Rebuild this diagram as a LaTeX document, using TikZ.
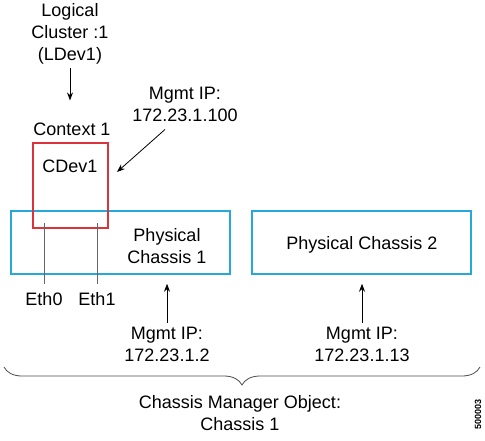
\documentclass[tikz,border=0pt]{standalone}
\usepackage{fontspec}
\setmainfont{Liberation Sans}
\usetikzlibrary{arrows.meta, decorations.pathreplacing}
\definecolor{ctxred}{RGB}{218,52,58}
\definecolor{chassisblue}{RGB}{38,168,218}
\tikzstyle{txt} = [align=center, inner sep=0pt, font=\fontsize{18}{22}\selectfont]
\tikzstyle{chassis} = [rectangle, draw=chassisblue, line width=1.5pt, minimum width=219pt, minimum height=63pt, inner sep=0pt]
\tikzstyle{context} = [rectangle, draw=ctxred, line width=1.5pt, minimum width=75pt, minimum height=85pt, inner sep=0pt]
\tikzstyle{arrow} = [line width=0.8pt, -{Stealth[length=8pt,width=6pt]}]
\tikzstyle{port} = [draw=black!60, line width=0.8pt]

\begin{document}
\begin{tikzpicture}[x=1pt, y=-1pt]
\useasboundingbox (0,0) rectangle (485,440);
%boxes
\node (chassis1) [chassis] at (120.5,242.5) {};
\node (chassis2) [chassis] at (361.5,242.5) {};
\node (cdev) [context] at (70.5,185.5) {};
%texts
\node (ldev) [txt] at (70,34) {Logical\\Cluster :1\\(LDev1)};
\node (ctx) [txt] at (72,129) {Context 1};
\node (cdevtxt) [txt] at (70,166) {CDev1};
\node (mgmtctx) [txt] at (185,104) {Mgmt IP:\\172.23.1.100};
\node (phys1) [txt] at (167,246) {Physical\\Chassis 1};
\node (phys2) [txt] at (362,245) {Physical Chassis 2};
\node (eth0) [txt] at (44,299) {Eth0};
\node (eth1) [txt] at (97,299) {Eth1};
\node (mgmt1) [txt] at (167,344) {Mgmt IP:\\172.23.1.2};
\node (mgmt2) [txt] at (362,344) {Mgmt IP:\\172.23.1.13};
\node (cmo) [txt] at (240,413) {Chassis Manager Object:\\Chassis 1};
\node (figid) [inner sep=0pt, rotate=90, font=\fontsize{9}{9}\selectfont\bfseries] at (478,414) {500003};
%coordinates
\coordinate (ctxtip) at (117,172);
\coordinate (port0) at (44,223);
\coordinate (port1) at (97,223);
\coordinate (braceL) at (4,367);
\coordinate (braceR) at (480,367);
%arrows
\draw [arrow, shorten <=3pt, shorten >=22pt] (ldev) -- (ldev |- ctx.north);
\draw [arrow] ([shift={(-20,8)}]mgmtctx.south) -- (ctxtip);
\draw [arrow, shorten <=4pt, shorten >=9pt] (mgmt1.north) -- (mgmt1 |- chassis1.south);
\draw [arrow, shorten <=4pt, shorten >=9pt] (mgmt2.north) -- (mgmt2 |- chassis2.south);
%ports
\draw [port, shorten >=8pt] (port0) -- (eth0.north);
\draw [port, shorten >=8pt] (port1) -- (eth1.north);
%brace
\draw [black!70, line width=0.8pt, decorate, decoration={brace, mirror, amplitude=18pt}] (braceL) -- (braceR);
\end{tikzpicture}
\end{document}
